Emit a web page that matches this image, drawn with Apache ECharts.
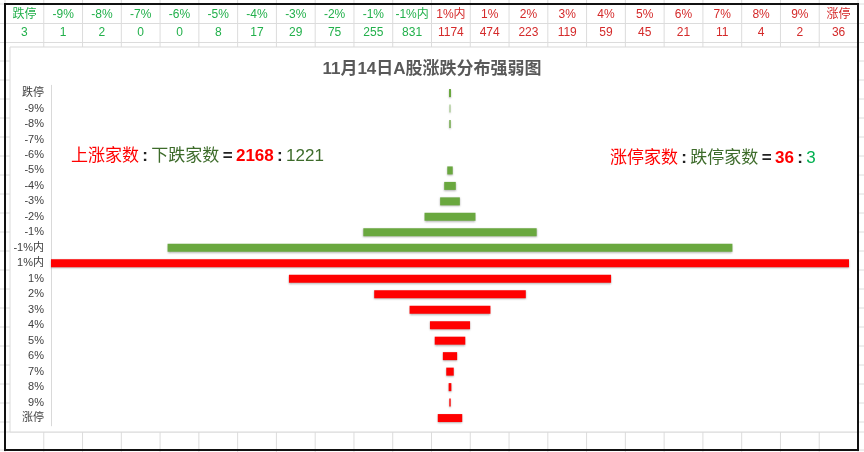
<!DOCTYPE html>
<html>
<head>
<meta charset="utf-8">
<script src="https://cdn.jsdelivr.net/npm/echarts@6/dist/echarts.min.js"></script>
<style>
html,body{margin:0;padding:0;background:#fff;}
#main{width:864px;height:452px;}
</style>
</head>
<body>
<div id="main"></div>
<script>
// 涨跌区间
var categories = ['跌停','-9%','-8%','-7%','-6%','-5%','-4%','-3%','-2%','-1%','-1%内',
                  '1%内','1%','2%','3%','4%','5%','6%','7%','8%','9%','涨停'];
// 家数
var counts = [3,1,2,0,0,8,17,29,75,255,831,1174,474,223,119,59,45,21,11,4,2,36];
var downCount = 1221, upCount = 2168;
var limitUp = 36, limitDown = 3;
var titleText = '11月14日A股涨跌分布强弱图';

var green = '#6aa83f', red = '#ff0000';
var font = "'Liberation Sans','Noto Sans CJK SC',sans-serif";

var maxVal = Math.max.apply(null, counts);
var offsetData = counts.map(function (v) { return (maxVal - v) / 2; });
var barData = counts.map(function (v, i) {
    return {value: v, itemStyle: {color: i < 11 ? green : red}};
});

// 表格背景 (spreadsheet look)
var colW = 853 / 22, x0 = 5;
var graphics = [];
var rowYs = [4, 23.5, 42.5, 61, 80, 99, 118, 137, 156, 175, 194, 213, 232, 251, 270, 289, 308, 327, 346, 365, 384, 403, 422, 432, 450];
rowYs.forEach(function (y) {
    graphics.push({type: 'line', z: 0, shape: {x1: 0, y1: y, x2: 864, y2: y}, style: {stroke: '#dcdcdc', lineWidth: 1}});
});
for (var c = 0; c <= 22; c++) {
    var cx = x0 + c * colW;
    graphics.push({type: 'line', z: 0, shape: {x1: cx, y1: 0, x2: cx, y2: 452}, style: {stroke: '#dcdcdc', lineWidth: 1}});
}
// 图表区域
graphics.push({type: 'rect', z: 1, shape: {x: 10, y: 47, width: 848, height: 385}, style: {fill: '#fff', stroke: '#d9d9d9', lineWidth: 1}});
// 外框
graphics.push({type: 'rect', z: 1, shape: {x: 5, y: 4, width: 853, height: 446}, style: {fill: 'none', stroke: '#111', lineWidth: 2}});
// 表格文字
categories.forEach(function (name, i) {
    var col = i < 11 ? '#22b04b' : '#d42a2a';
    var cx = x0 + (i + 0.5) * colW;
    graphics.push({type: 'text', z: 5, x: cx, y: 15, style: {text: name, fill: col, font: '12px ' + font, textAlign: 'center', textVerticalAlign: 'middle'}});
    graphics.push({type: 'text', z: 5, x: cx, y: 33, style: {text: String(counts[i]), fill: col, font: '12px ' + font, textAlign: 'center', textVerticalAlign: 'middle'}});
});
// 注释
graphics.push({
    type: 'text', z: 10, x: 71, y: 156,
    style: {
        text: '{r|上涨家数} {k|:} {g|下跌家数} {k|=} {rb|' + upCount + '} {k|:} {g|' + downCount + '}',
        textVerticalAlign: 'middle',
        rich: {
            r: {fill: '#ff0000', fontSize: 17, fontFamily: font},
            g: {fill: '#3d6b2a', fontSize: 17, fontFamily: font},
            k: {fill: '#222', fontSize: 17, fontWeight: 'bold', fontFamily: font},
            rb: {fill: '#ff0000', fontSize: 17, fontWeight: 'bold', fontFamily: font}
        }
    }
});
graphics.push({
    type: 'text', z: 10, x: 610, y: 158,
    style: {
        text: '{r|涨停家数} {k|:} {g|跌停家数} {k|=} {rb|' + limitUp + '} {k|:} {gg|' + limitDown + '}',
        textVerticalAlign: 'middle',
        rich: {
            r: {fill: '#ff0000', fontSize: 17, fontFamily: font},
            rb: {fill: '#ff0000', fontSize: 17, fontWeight: 'bold', fontFamily: font},
            g: {fill: '#3d6b2a', fontSize: 17, fontFamily: font},
            gg: {fill: '#00b050', fontSize: 17, fontFamily: font},
            k: {fill: '#222', fontSize: 17, fontWeight: 'bold', fontFamily: font}
        }
    }
});

var myChart = echarts.init(document.getElementById('main'));
var option = {
    animation: false,
    title: {
        text: titleText,
        left: 'center',
        top: 56,
        z: 10,
        textStyle: {color: '#595959', fontSize: 17, fontWeight: 'bold', fontFamily: font}
    },
    graphic: graphics,
    grid: {left: 51, right: 15, top: 85.3, bottom: 26.2},
    xAxis: {
        type: 'value',
        min: 0,
        max: maxVal,
        show: false
    },
    yAxis: {
        type: 'category',
        inverse: true,
        z: 10,
        data: categories,
        axisLine: {show: true, lineStyle: {color: '#d9d9d9'}},
        axisTick: {show: false},
        axisLabel: {color: '#404040', fontSize: 11, fontFamily: font, margin: 7}
    },
    series: [
        {
            name: 'offset',
            type: 'bar',
            stack: 'all',
            barWidth: 8,
            silent: true,
            z: 10,
            itemStyle: {color: 'transparent'},
            data: offsetData
        },
        {
            name: '家数',
            type: 'bar',
            stack: 'all',
            barWidth: 8,
            z: 10,
            itemStyle: {shadowBlur: 2, shadowColor: 'rgba(0,0,0,0.3)', shadowOffsetY: 1},
            data: barData
        }
    ]
};
myChart.setOption(option);
</script>
</body>
</html>
